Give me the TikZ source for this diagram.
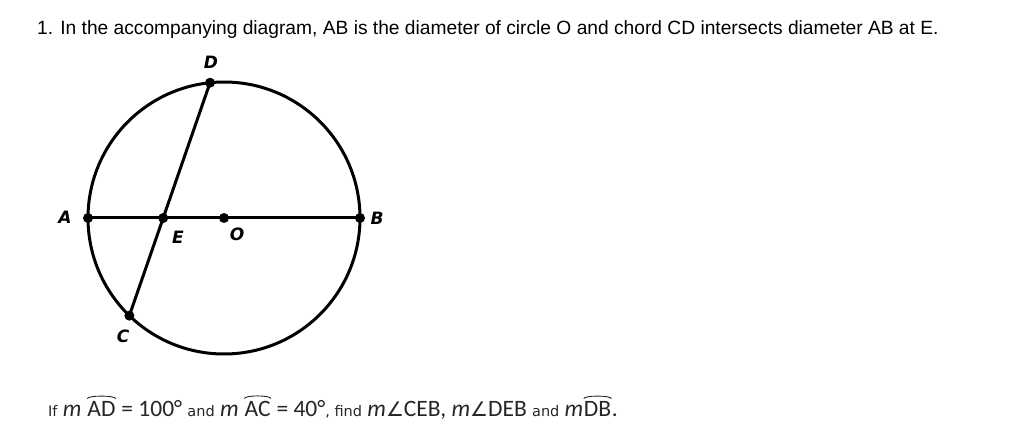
\documentclass[tikz,border=0pt]{standalone}
\usepackage{fontspec}
\setmainfont{Liberation Sans}
\newfontfamily\ptfont{DejaVu Sans}
\newfontfamily\qfont{Carlito}
\usetikzlibrary{positioning, calc}

% arc mark over an arc name
\newcommand\arcover[1]{\tikz[baseline=(w.base)]{\node[inner sep=0pt] (w) {#1};
  \draw[line width=0.9pt] ([yshift=2pt]w.north west) .. controls ([yshift=5.5pt]w.north west) and ([yshift=5.5pt]w.north east) .. ([yshift=2pt]w.north east);}}
\newcommand\sm[1]{{\ptfont\fontsize{14.5}{16}\selectfont #1}}
\newcommand\angl{{\ptfont\fontsize{20}{22}\selectfont∠}}

\begin{document}
\begin{tikzpicture}[x=1pt, y=1pt,
    dot/.style={circle, fill=black, inner sep=0pt, minimum size=10pt},
    lbl/.style={font=\ptfont\bfseries\itshape\fontsize{17}{19}\selectfont, inner sep=1pt},
    seg/.style={line width=3pt}]
    \useasboundingbox (0,-446) rectangle (1024,0);

    % Enonce
    \node[anchor=base west, inner sep=0pt, font=\fontsize{19.2}{22}\selectfont] (title) at (37,-35)
      {1. In the accompanying diagram, AB is the diameter of circle O and chord CD intersects diameter AB at E.};

    % Cercle et points
    \coordinate (O) at (224,-218);
    \draw[seg] (O) circle[radius=136];
    \coordinate (A) at ($(O)+(180:136)$);
    \coordinate (B) at ($(O)+(0:136)$);
    \coordinate (D) at ($(O)+(95.9:136)$);
    \coordinate (C) at ($(O)+(225.9:136)$);
    \coordinate (E) at (intersection of A--B and C--D);

    % Segments
    \draw[seg] (A) -- (B);
    \draw[seg] (C) -- (D);

    % Points
    \foreach \p in {A,B,C,D,E,O} \node[dot] at (\p) {};

    % Etiquettes
    \node[lbl] (lD) at (211,-62)  {D};
    \node[lbl] (lA) at (65,-217)  {A};
    \node[lbl] (lB) at (377,-218) {B};
    \node[lbl] (lE) at (178,-237) {E};
    \node[lbl] (lO) at (237,-234) {O};
    \node[lbl] (lC) at (123,-336) {C};

    % Question
    \node[anchor=base west, inner sep=0pt, text=black!85, font=\qfont\fontsize{23.5}{26}\selectfont] (quest) at (48,-416)
      {\sm{If} \textit{m} \arcover{AD} = 100° \sm{and} \textit{m} \arcover{AC} = 40°\sm{, find} \textit{m}\angl CEB, \textit{m}\angl DEB \sm{and} \textit{m}\arcover{DB}.};
\end{tikzpicture}
\end{document}
